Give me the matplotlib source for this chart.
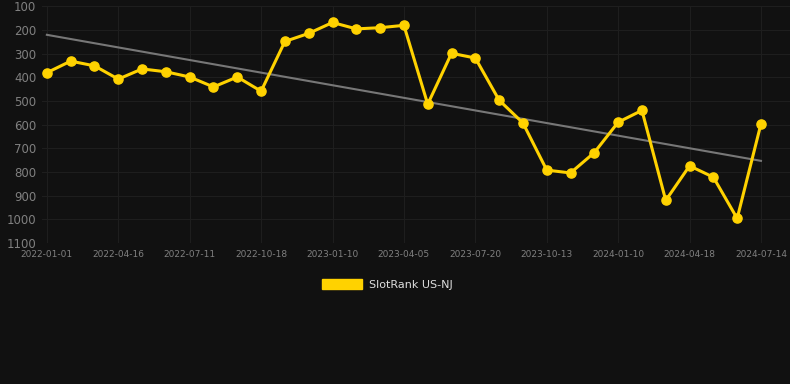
import matplotlib
matplotlib.use('Agg')
import matplotlib.pyplot as plt
import matplotlib.patches as mpatches

# monthly rank readings, label shown on every third point
ranks = [381, 332, 352, 408, 365, 377, 399, 441, 399, 459,
         249, 215, 169, 196, 191, 181, 514, 299, 319, 497,
         593, 792, 804, 718, 590, 540, 920, 774, 822, 996, 597]
tick_labels = ['2022-01-01', '2022-04-16', '2022-07-11', '2022-10-18',
               '2023-01-10', '2023-04-05', '2023-07-20', '2023-10-13',
               '2024-01-10', '2024-04-18', '2024-07-14']
trend_start = 221
trend_end = 753
y_ticks = [100, 200, 300, 400, 500, 600, 700, 800, 900, 1000, 1100]

bg = '#111111'
yellow = '#FFD200'

fig = plt.figure(figsize=(7.9, 3.84), dpi=100, facecolor=bg)
ax = fig.add_axes([0.053, 0.367, 0.947, 0.617], facecolor=bg)

x = list(range(len(ranks)))
ax.plot([x[0], x[-1]], [trend_start, trend_end], color='#777777', lw=1.5, zorder=2)
ax.plot(x, ranks, color=yellow, lw=2.2, marker='o', markersize=6.6, zorder=3)

ax.set_ylim(1100, 100)
ax.set_xlim(-0.21, 31.22)
ax.set_yticks(y_ticks)
ax.set_xticks(x[::3])
ax.set_xticklabels(tick_labels)

ax.grid(True, color='#1e1e1e', lw=0.8)
ax.set_axisbelow(True)
for s in ax.spines.values():
    s.set_visible(False)
ax.tick_params(axis='y', length=0, pad=4, labelsize=8.5, labelcolor='#808080')
ax.tick_params(axis='x', length=0, pad=5, labelsize=6.5, labelcolor='#808080')

patch = mpatches.Patch(color=yellow, label='SlotRank US-NJ')
fig.legend(handles=[patch], loc='center', bbox_to_anchor=(0.49, 0.26),
           frameon=False, fontsize=8, labelcolor='#dddddd',
           handlelength=3.6, handleheight=1.0, handletextpad=0.6)

fig.savefig('out.png', dpi=100, facecolor=bg)
